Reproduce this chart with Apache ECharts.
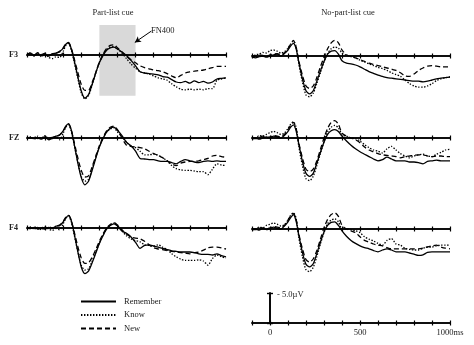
<!DOCTYPE html>
<html>
<head>
<meta charset="utf-8">
<script src="https://cdn.jsdelivr.net/npm/echarts@6/dist/echarts.min.js"></script>
<style>
  html, body { margin: 0; padding: 0; background: #fff; }
  #chart { width: 474px; height: 345px; }
</style>
</head>
<body>
<div id="chart"></div>
<script>
// Sample times (ms) shared by every waveform
const TIMES = [-100,-80,-60,-40,-20,0,20,40,60,80,100,115,130,145,160,180,200,220,240,260,280,300,320,340,360,380,400,
  425,450,475,500,525,550,575,600,625,650,675,700,725,750,775,800,825,850,875,900,925,950,975,1000];

const CHANNELS = ['F3', 'FZ', 'F4'];
const CONDITIONS = ['Part-list cue', 'No-part-list cue'];
const RESPONSES = ['Remember', 'Know', 'New'];

// Grand-average amplitudes (µV), one value per entry of TIMES
const PART_F3_REMEMBER = [0,-0.2,0.1,-0.2,0.1,-0.1,0.2,-0.2,-0.3,-0.6,-1.1,-1.8,-2.1,-1.0,0.8,3.5,6.0,7.2,6.6,4.9,3.0,1.3,0.1,-0.8,-1.2,-1.3,-1.0,-0.5,0.1,0.9,1.8,2.8,3.0,3.1,3.2,3.3,3.6,3.7,4.1,4.5,4.6,4.4,4.7,4.3,4.6,4.4,4.7,4.5,4.0,3.9,3.8];
const PART_F3_KNOW = [0.1,-0.4,0.2,-0.3,0.3,-0.2,0.4,0.6,0.3,0.4,-0.6,-1.6,-1.9,-0.8,1.0,3.8,6.3,7.3,6.8,5.0,3.0,1.2,0.0,-0.9,-1.3,-1.4,-1.0,-0.3,0.6,1.5,2.2,2.8,3.0,3.2,3.5,3.8,4.0,4.2,4.8,5.3,5.7,5.8,5.7,5.8,5.7,5.8,5.6,5.6,4.2,4.0,3.8];
const PART_F3_NEW = [-0.2,-0.3,0.0,-0.4,-0.1,-0.3,0.1,-0.2,-0.3,-0.5,-1.2,-1.9,-2.0,-1.1,0.5,2.8,4.9,5.9,5.9,4.6,2.9,1.2,-0.1,-1.1,-1.6,-1.7,-1.2,-0.5,0.2,0.8,1.3,1.8,2.1,2.3,2.5,2.6,2.8,3.1,3.5,3.8,3.4,3.0,2.8,2.7,2.6,2.5,2.3,2.1,1.9,1.9,1.9];

const NOPART_F3_REMEMBER = [0.2,0.3,0.1,0.0,0.2,0.0,-0.2,-0.3,0.0,-0.4,-1.0,-1.7,-2.1,-1.2,1.0,3.8,5.8,6.3,5.8,4.2,2.5,0.9,-0.3,-0.8,-0.9,-0.3,0.8,1.2,1.3,1.5,1.8,2.2,2.6,2.9,3.2,3.4,3.6,3.7,3.8,3.9,4.0,4.1,4.2,4.2,4.3,4.2,4.0,3.8,3.7,3.6,3.5];
const NOPART_F3_KNOW = [0.3,-0.2,-0.3,-0.6,-0.5,-0.9,-1.0,-0.8,-0.5,-0.7,-1.3,-2.0,-2.5,-1.6,1.3,4.3,6.5,6.8,6.2,4.6,2.8,1.0,-0.4,-1.2,-1.5,-1.3,-0.5,-0.1,0.1,0.3,0.7,1.0,1.3,1.6,1.9,2.1,2.4,2.8,3.1,3.4,4.0,4.6,5.0,5.2,5.2,5.0,4.6,4.1,3.8,3.6,3.5];
const NOPART_F3_NEW = [0.0,0.1,-0.2,-0.1,0.1,-0.2,-0.3,-0.4,-0.2,-0.5,-1.2,-2.0,-2.6,-1.5,0.8,3.2,5.0,5.4,5.0,3.6,1.8,0.2,-1.2,-2.2,-2.6,-2.2,-1.0,-0.2,0.1,0.3,0.6,0.9,1.2,1.4,1.6,1.8,2.0,2.2,2.4,2.8,3.3,3.4,3.0,2.4,2.0,1.7,1.6,1.7,1.8,1.8,1.8];

const PART_FZ_REMEMBER = [0,-0.1,0.1,0.0,0.2,-0.1,0.3,0.0,-0.3,-0.5,-1.2,-2.0,-2.4,-1.3,0.9,4.0,6.6,7.8,7.2,5.4,3.4,1.5,0.1,-1.0,-1.6,-1.8,-1.3,-0.4,0.7,1.3,2.2,3.4,3.5,3.6,3.6,3.8,3.9,3.9,4.1,4.3,3.9,3.6,3.8,4.0,4.1,3.9,3.8,3.9,3.8,3.9,3.9];
const PART_FZ_KNOW = [0.1,-0.2,0.2,-0.3,0.1,-0.4,0.2,0.1,-0.2,0.3,-0.8,-1.8,-2.2,-1.1,1.0,3.9,6.4,7.2,6.9,5.2,3.2,1.4,0.0,-1.0,-1.5,-1.7,-1.0,-0.2,0.7,1.4,1.6,2.2,2.8,2.8,2.7,2.9,3.3,3.8,4.6,5.1,5.3,5.4,5.4,5.5,5.6,5.6,6.1,5.2,4.3,4.5,4.6];
const PART_FZ_NEW = [-0.1,0.0,-0.2,0.1,-0.1,-0.2,0.0,-0.1,-0.3,-0.5,-1.2,-1.9,-2.3,-1.3,0.6,3.2,5.4,6.5,6.3,4.8,3.0,1.3,-0.1,-1.2,-1.8,-2.0,-1.4,0.0,1.2,1.4,1.5,1.6,1.8,2.2,2.6,2.9,3.3,3.8,4.3,4.6,4.2,4.0,3.9,3.9,3.8,3.6,3.4,3.0,2.9,3.1,3.2];

const NOPART_FZ_REMEMBER = [0.1,0.0,0.2,0.0,-0.2,0.0,-0.3,-0.2,0.0,-0.4,-1.1,-1.8,-2.2,-1.2,1.0,3.9,5.9,6.4,5.9,4.2,2.4,0.7,-0.6,-1.2,-1.4,-1.1,-0.3,0.5,1.2,1.8,2.3,2.7,3.1,3.5,3.8,3.6,3.2,3.5,3.8,3.8,3.8,4.0,4.0,4.1,4.3,3.9,3.8,3.7,3.8,3.8,3.8];
const NOPART_FZ_KNOW = [0.2,0.0,-0.4,-0.3,-0.6,-0.9,-1.1,-0.9,-0.6,-0.8,-1.6,-2.3,-2.7,-1.8,1.4,4.6,6.8,7.1,6.4,4.6,2.6,0.6,-1.0,-1.8,-2.1,-1.7,-0.6,-0.3,0.0,0.1,0.5,1.1,1.6,2.0,2.2,2.5,1.8,1.4,2.0,2.6,3.0,3.3,3.0,2.8,2.7,3.0,3.1,2.7,2.4,2.0,1.9];
const NOPART_FZ_NEW = [0.0,0.1,-0.1,-0.3,0.0,-0.2,-0.4,-0.3,-0.2,-0.6,-1.4,-2.1,-2.6,-1.6,0.8,3.3,5.2,5.6,5.2,3.8,1.9,0.0,-1.6,-2.6,-2.9,-2.3,-0.8,-0.3,0.0,0.3,0.8,1.5,2.0,2.3,2.6,2.8,2.9,3.0,3.1,3.3,3.1,3.0,2.9,2.8,2.8,3.0,3.1,3.0,3.0,3.1,3.1];

const PART_F4_REMEMBER = [0,0.1,-0.1,0.2,0.0,0.2,-0.1,0.1,-0.3,-0.4,-1.0,-1.7,-2.1,-1.2,0.8,3.8,6.5,7.6,7.2,5.8,4.2,2.6,1.3,0.2,-0.4,-0.7,-0.4,0.5,0.9,1.5,2.4,3.4,2.9,2.8,3.0,3.2,3.4,3.6,3.8,3.9,4.0,4.0,4.0,4.1,4.3,4.4,4.4,4.5,4.3,4.6,4.8];
const PART_F4_KNOW = [0.1,-0.2,0.2,-0.1,0.3,-0.2,0.2,0.4,0.1,0.3,-0.7,-1.6,-2.0,-1.0,1.0,3.8,6.2,7.0,6.8,5.5,4.0,2.5,1.2,0.1,-0.5,-0.8,-0.3,0.5,1.3,1.8,2.1,2.3,2.8,2.9,3.0,2.8,3.2,3.6,4.3,4.8,5.2,5.4,5.4,5.4,5.3,5.5,6.2,5.1,4.5,4.8,5.0];
const PART_F4_NEW = [-0.1,0.0,-0.2,0.1,-0.1,0.0,-0.2,0.0,-0.3,-0.5,-1.1,-1.8,-2.1,-1.2,0.5,3.0,5.0,5.9,5.8,4.9,3.6,2.2,1.0,0.0,-0.6,-0.9,-0.5,0.3,1.0,1.5,1.7,1.8,2.2,2.8,3.3,3.5,3.6,3.8,3.9,4.0,4.1,4.2,4.3,4.1,4.0,3.7,3.3,3.2,3.2,3.3,3.5];

const NOPART_F4_REMEMBER = [0.1,0.0,0.2,-0.1,0.1,-0.1,-0.3,-0.1,0.0,-0.5,-1.2,-1.9,-2.4,-1.3,1.0,3.9,5.9,6.3,5.8,4.1,2.2,0.5,-0.6,-1.1,-1.2,-0.6,0.3,1.2,1.9,2.4,2.8,3.1,3.3,3.6,3.8,3.5,3.3,3.5,3.8,3.8,3.8,4.0,4.2,4.4,4.3,3.9,3.8,3.8,3.8,3.8,3.8];
const NOPART_F4_KNOW = [0.2,0.0,-0.3,-0.2,-0.6,-0.8,-1.0,-0.8,-0.5,-0.7,-1.5,-2.3,-2.7,-1.8,1.4,4.6,6.8,7.1,6.4,4.6,2.5,0.6,-0.9,-1.5,-1.7,-1.2,0.0,0.0,0.1,0.3,0.6,1.3,1.7,2.0,2.4,2.7,1.9,1.6,2.5,2.7,3.2,3.4,3.5,3.5,3.2,3.0,3.0,2.8,2.7,2.7,2.7];
const NOPART_F4_NEW = [0.0,0.1,-0.2,-0.2,0.0,-0.2,-0.4,-0.3,-0.2,-0.6,-1.5,-2.2,-2.6,-1.6,0.8,3.3,5.1,5.5,5.0,3.6,1.7,-0.2,-1.6,-2.4,-2.7,-2.1,-0.6,0.0,0.3,0.6,1.3,1.9,2.2,2.5,2.7,2.8,3.1,3.3,3.3,3.3,3.3,3.3,3.3,3.3,3.2,3.0,2.8,2.7,3.0,3.2,3.3];

// FN400 analysis window (ms) and the time-axis labels
const FN400_WINDOW = [300, 500];
const TIME_LABELS = [0, 500, 1000];
const SCALE_BAR_UV = -5;

// condition -> channel -> [Remember, Know, New]
const WAVES = [
  [[PART_F3_REMEMBER, PART_F3_KNOW, PART_F3_NEW],
   [PART_FZ_REMEMBER, PART_FZ_KNOW, PART_FZ_NEW],
   [PART_F4_REMEMBER, PART_F4_KNOW, PART_F4_NEW]],
  [[NOPART_F3_REMEMBER, NOPART_F3_KNOW, NOPART_F3_NEW],
   [NOPART_FZ_REMEMBER, NOPART_FZ_KNOW, NOPART_FZ_NEW],
   [NOPART_F4_REMEMBER, NOPART_F4_KNOW, NOPART_F4_NEW]]
];

// ---- layout ----
const SERIF = '"Liberation Serif", "Times New Roman", serif';
const TEXT_COLOR = '#222';
const COL_LEFT = [27, 252];
const COL_WIDTH = [199, 198];
const ROW_ZERO = [[55, 138, 228], [56, 138, 229]];   // pixel row of the 0 µV line
const PX_PER_UV = 6;
const UV_RANGE = [-6, 10];
const LINE_TYPES = ['solid', [1.4, 1.6], [5, 3]];
const SCALE_GRID = { left: COL_LEFT[1], width: COL_WIDTH[1], top: 293, height: 30 };

const chart = echarts.init(document.getElementById('chart'), null, { renderer: 'canvas' });

const grids = [], xAxes = [], yAxes = [], series = [];

// Time axis lying on the 0 µV line; ticks go down (outside) or up (inside)
function timeAxis(gridIndex, inside, extra) {
  return Object.assign({
    type: 'value', gridIndex, position: 'bottom',
    min: -100, max: 1000, interval: 100,
    z: 3,
    axisLine: { show: true, onZero: true, lineStyle: { color: '#000', width: 1.6 } },
    axisTick: { show: true, inside, length: 2.5, lineStyle: { color: '#000', width: 1.2 } },
    axisLabel: { show: false },
    splitLine: { show: false }
  }, extra || {});
}

CONDITIONS.forEach((cond, c) => {
  CHANNELS.forEach((ch, r) => {
    const zero = ROW_ZERO[c][r];
    const rect = {
      left: COL_LEFT[c], width: COL_WIDTH[c],
      top: zero - (0 - UV_RANGE[0]) * PX_PER_UV,
      height: (UV_RANGE[1] - UV_RANGE[0]) * PX_PER_UV
    };
    let xi, yi;
    // two coincident grids: one carries downward ticks + waveforms, the other upward ticks
    [false, true].forEach(inside => {
      const g = grids.length;
      grids.push(Object.assign({}, rect));
      if (!inside) { xi = xAxes.length; yi = yAxes.length; }
      xAxes.push(timeAxis(g, inside));
      yAxes.push({
        type: 'value', gridIndex: g, min: UV_RANGE[0], max: UV_RANGE[1],
        inverse: true, show: false, splitLine: { show: false }
      });
    });
    RESPONSES.forEach((resp, k) => {
      const s = {
        name: resp, type: 'line', xAxisIndex: xi, yAxisIndex: yi,
        data: TIMES.map((t, i) => [t, WAVES[c][r][k][i]]),
        symbol: 'none', smooth: 0.25, silent: true,
        lineStyle: { color: '#000', width: 1.3, type: LINE_TYPES[k] },
        itemStyle: { color: '#000' },
        z: 4
      };
      if (c === 0 && r === 0 && k === 0) {
        s.markArea = {
          silent: true,
          itemStyle: { color: '#d9d9d9' },
          data: [[{ xAxis: FN400_WINDOW[0], yAxis: -5 }, { xAxis: FN400_WINDOW[1], yAxis: 6.8 }]]
        };
        s.markLine = {
          silent: true, symbol: ['none', 'arrow'], symbolSize: [5, 6],
          label: { show: false },
          lineStyle: { color: '#000', width: 1, type: 'solid' },
          data: [[{ coord: [FN400_WINDOW[1] + 88, -4.0] }, { coord: [FN400_WINDOW[1] - 4, -2.1] }]]
        };
      }
      series.push(s);
    });
  });
});

// time scale with the amplitude calibration bar (two coincident grids again:
// outward ticks draw the left half of the cap, inward ticks the right half)
[false, true].forEach(inside => {
  const g = grids.length;
  grids.push(Object.assign({}, SCALE_GRID));
  xAxes.push(timeAxis(g, inside, inside ? {} : {
    axisLabel: {
      show: true, margin: 5, fontFamily: SERIF, fontSize: 8.5, color: TEXT_COLOR,
      formatter: v => TIME_LABELS.includes(v) ? (v === 1000 ? v + 'ms' : String(v)) : ''
    }
  }));
  yAxes.push({
    type: 'value', gridIndex: g, position: 'left',
    min: SCALE_BAR_UV, max: 0, interval: -SCALE_BAR_UV, inverse: true,
    axisLine: { show: true, onZero: true, lineStyle: { color: '#000', width: 1.6 } },
    axisTick: { show: true, inside, length: 3, lineStyle: { color: '#000', width: 1.4 } },
    axisLabel: { show: false },
    splitLine: { show: false }
  });
});

const graphic = [];
CONDITIONS.forEach((cond, c) => {
  graphic.push({
    type: 'text', x: COL_LEFT[c] + 86 + (c === 1 ? 10 : 0), y: 13,
    style: { text: cond, align: 'center', verticalAlign: 'middle',
             font: '8.5px ' + SERIF, fill: TEXT_COLOR }
  });
});
CHANNELS.forEach((ch, r) => {
  graphic.push({
    type: 'text', x: 9, y: ROW_ZERO[0][r],
    style: { text: ch, align: 'left', verticalAlign: 'middle',
             font: 'bold 8px ' + SERIF, fill: TEXT_COLOR }
  });
});
graphic.push({
  type: 'text', x: 151, y: 31,
  style: { text: 'FN400', align: 'left', verticalAlign: 'middle',
           font: '8.5px ' + SERIF, fill: TEXT_COLOR }
});
// amplitude label beside the calibration bar
graphic.push({
  type: 'text', x: 277, y: SCALE_GRID.top + 2,
  style: { text: '- ' + Math.abs(SCALE_BAR_UV).toFixed(1) + 'µV', align: 'left', verticalAlign: 'middle',
           font: '8.5px ' + SERIF, fill: TEXT_COLOR }
});

chart.setOption({
  animation: false,
  backgroundColor: '#fff',
  grid: grids,
  xAxis: xAxes,
  yAxis: yAxes,
  series: series,
  graphic: graphic,
  legend: {
    data: RESPONSES,
    orient: 'vertical',
    left: 80, top: 297, padding: 0,
    itemWidth: 35, itemHeight: 10, itemGap: 4.5,
    itemStyle: { color: 'transparent', borderColor: 'transparent', borderWidth: 0, opacity: 0 },
    textStyle: { fontFamily: SERIF, fontSize: 8.5, color: TEXT_COLOR, padding: [0, 0, 0, 3] },
    selectedMode: false
  }
});
</script>
</body>
</html>
